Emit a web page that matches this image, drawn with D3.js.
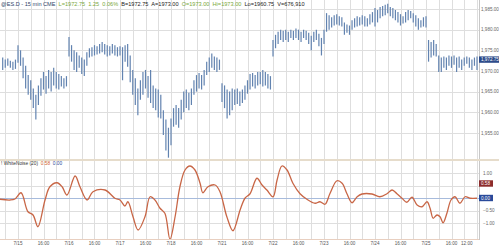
<!DOCTYPE html>
<html><head><meta charset="utf-8">
<script src="https://cdn.jsdelivr.net/npm/d3@7"></script>
<style>html,body{margin:0;padding:0;background:#fff;overflow:hidden}svg{display:block}text{font-family:"Liberation Sans",Arial,sans-serif}</style>
</head><body><svg id="c" width="499" height="247"></svg>
<script>
// ---- data ----
const highs = [1973.25,1972.75,1973.0,1972.5,1972.25,1972.75,1976.25,1975.0,1973.25,1971.25,
1969.0,1967.75,1965.75,1964.25,1966.5,1968.25,1969.75,1968.75,1970.25,1969.75,
1970.75,1969.75,1969.25,1968.75,1968.25,1968.75,1978.25,1976.25,1975.0,1974.5,
1973.75,1973.25,1972.75,1974.5,1975.5,1975.75,1976.25,1976.0,1976.5,1977.0,
1976.5,1976.25,1976.0,1976.5,1976.25,1975.75,1976.0,1975.75,1976.25,1976.5,
1973.75,1970.25,1968.25,1965.75,1967.75,1969.75,1970.25,1968.75,1970.25,1966.5,
1965.75,1965.5,1964.25,1960.5,1958.25,1956.25,1958.5,1961.0,1961.75,1961.0,
1963.0,1965.0,1965.5,1964.75,1965.75,1967.75,1969.0,1969.5,1969.0,1970.25,
1972.25,1973.25,1974.25,1973.5,1973.25,1972.75,1967.0,1966.5,1965.5,1965.0,
1965.75,1965.5,1965.75,1965.0,1965.5,1966.5,1967.75,1969.25,1969.5,1969.0,
1969.75,1969.75,1970.25,1969.75,1969.25,1968.75,1977.5,1978.75,1979.5,1980.0,
1979.75,1980.0,1979.5,1980.0,1979.75,1980.25,1980.0,1979.5,1980.0,1979.75,
1979.25,1978.5,1979.5,1980.0,1979.0,1978.0,1980.0,1984.0,1983.5,1983.0,
1983.5,1983.75,1983.25,1983.0,1981.75,1981.25,1981.0,1982.25,1982.75,1983.25,
1983.0,1983.5,1983.25,1982.75,1983.75,1984.25,1985.25,1984.75,1985.5,1985.75,
1986.0,1986.25,1985.5,1985.25,1984.75,1984.25,1983.75,1983.25,1984.25,1984.75,
1984.5,1984.0,1983.5,1982.75,1982.25,1983.0,1983.25,1977.5,1977.0,1977.5,
1976.5,1973.75,1973.25,1973.5,1973.25,1973.75,1973.5,1973.75,1973.25,1973.5,
1972.75,1973.25,1973.5,1973.25,1972.75,1973.25,1973.5];
const lows = [1970.25,1970.75,1971.25,1970.75,1970.25,1970.5,1972.0,1971.25,1968.25,1965.75,
1964.25,1963.0,1961.0,1958.25,1961.75,1964.0,1965.5,1964.5,1965.75,1965.0,
1966.5,1965.75,1965.5,1966.25,1965.75,1966.25,1973.5,1972.25,1970.25,1969.75,
1970.75,1969.25,1968.75,1971.25,1973.25,1973.5,1973.75,1974.0,1974.25,1974.5,
1974.0,1973.5,1973.75,1974.25,1973.75,1973.5,1973.75,1967.75,1972.25,1971.0,
1967.25,1964.25,1961.75,1959.25,1963.0,1964.25,1965.75,1963.5,1962.25,1961.0,
1960.5,1958.75,1958.5,1954.5,1950.75,1949.0,1952.0,1956.5,1957.0,1956.25,
1958.25,1960.0,1961.0,1960.5,1961.75,1964.25,1965.0,1965.75,1965.5,1966.5,
1969.0,1969.75,1970.75,1970.25,1969.75,1970.25,1962.5,1961.0,1958.5,1959.25,
1960.5,1961.75,1962.0,1961.5,1962.25,1963.0,1964.5,1965.5,1966.25,1965.75,
1966.5,1966.75,1966.25,1966.5,1965.75,1965.5,1973.5,1975.5,1976.5,1977.5,
1977.0,1977.5,1977.0,1978.0,1977.5,1978.0,1977.5,1977.0,1978.0,1977.5,
1976.5,1975.0,1977.0,1977.5,1976.0,1973.75,1976.5,1979.5,1980.0,1980.5,
1981.0,1981.25,1981.0,1980.75,1978.75,1979.25,1978.75,1980.0,1980.5,1980.75,
1981.0,1981.25,1980.75,1980.75,1981.25,1981.75,1980.75,1981.75,1982.75,1983.25,
1983.5,1984.0,1983.25,1982.75,1982.25,1981.75,1981.0,1981.5,1981.75,1982.25,
1982.75,1981.75,1980.75,1980.0,1980.5,1980.75,1980.5,1972.25,1973.25,1973.75,
1973.5,1969.75,1969.75,1970.75,1970.25,1971.25,1970.75,1971.5,1969.75,1970.75,
1970.25,1971.25,1971.75,1970.75,1970.25,1971.25,1970.25];
const priceTicks = [1955, 1960, 1965, 1970, 1975, 1980, 1985];
const lastPrice = 1972.75;

const timeTickBars = [6,16,26,36,46,56,66,76,86,96,106,116,126,136,146,156,166,176,182];
const timeTickLabels = ["7/15","16:00","7/16","16:00","7/17","16:00","7/18","16:00","7/21","16:00",
  "7/22","16:00","7/23","16:00","7/24","16:00","7/25","16:00","12:00"];

const wnBars = [-1.1,2.9,4.8,7.2,9.9,11.9,13.8,16.6,18.5,21.3,23.3,25.2,28.4,30.3,33.1,35.4,40.1,44.0,46.0,47.9,
  49.1,51.1,53.1,55.8,57.8,59.7,61.7,63.6,65.6,67.6,69.5,71.5,73.4,75.4,77.4,78.5,80.5,83.3,85.2,87.9,
  90.3,93.1,95.0,97.0,99.7,101.7,103.6,106.0,107.6,109.5,111.5,113.8,116.6,119.3,122.5,124.4,126.4,128.3,131.1,133.1,
  135.0,137.0,139.0,140.9,144.8,147.9,150.7,152.7,154.6,156.6,158.5,160.5,162.5,164.4,166.4,167.6,168.8,170.3,171.5,172.7,
  174.2,175.8,177.4,179.3,181.3,183.3,186.0];
const wnValues = [-0.05,-0.08,-0.04,0.21,-0.55,-0.68,-1.15,-0.08,0.45,0.61,0.45,0.12,0.88,0.45,-0.08,0.25,0.32,-0.01,-0.08,-0.32,
  -0.15,-0.75,-1.28,-0.75,0.05,-0.08,-0.41,-0.61,-1.65,-0.75,0.45,1.12,1.28,1.12,0.59,0.21,0.45,0.52,0.25,-0.75,
  -1.31,-0.48,-0.01,0.17,0.79,0.52,0.32,0.05,0.72,1.28,1.12,0.59,0.17,-0.05,-0.21,-0.15,-0.25,0.17,0.69,0.59,
  0.17,-0.19,0.05,0.16,0.16,0.05,0.17,0.32,0.17,-0.01,-0.17,0.03,-0.28,-0.35,-0.15,-0.41,-0.81,-0.68,-0.75,-0.99,
  -0.61,-0.08,0.05,-0.21,0.05,-0.01,-0.01];
const wnTicks = [1.0, -0.5, -1.0];
const wnGrid = [1.0, 0.5, -0.5, -1.0];
const wnLast = 0.58, wnZero = 0.0;

// ---- drawing ----
const svg = d3.select("#c");
const W = 499, H = 247, axisX = 479;
const x = d3.scaleLinear().domain([0, 186]).range([2.7, 477]);
const yP = d3.scaleLinear().domain([1950, 1985]).range([153.55, 9]);
const yW = d3.scaleLinear().domain([-1, 1]).range([223, 173]);
const pricePane = [0, 159], wnPane = [161, 239];

svg.append("rect").attr("width", W).attr("height", H).attr("fill", "#fff");

// vertical grid
const gridBars = d3.range(1, 187, 5);
const g = svg.append("g");
gridBars.forEach(b => {
  const gx = Math.round(x(b)) + 0.5;
  g.append("line").attr("x1", gx).attr("x2", gx).attr("y1", pricePane[0]).attr("y2", pricePane[1])
    .attr("stroke", "#dedede").attr("stroke-width", 1);
  g.append("line").attr("x1", gx).attr("x2", gx).attr("y1", wnPane[0]).attr("y2", wnPane[1])
    .attr("stroke", "#dedede").attr("stroke-width", 1);
});
// horizontal grid
priceTicks.forEach(p => g.append("line").attr("x1", 0).attr("x2", axisX).attr("y1", Math.round(yP(p)) + 0.5).attr("y2", Math.round(yP(p)) + 0.5)
  .attr("stroke", "#dedede"));
wnGrid.forEach(v => g.append("line").attr("x1", 0).attr("x2", axisX).attr("y1", Math.round(yW(v)) + 0.5).attr("y2", Math.round(yW(v)) + 0.5)
  .attr("stroke", "#dedede"));
// zero line
g.append("line").attr("x1", 0).attr("x2", axisX).attr("y1", Math.round(yW(0)) + 0.5).attr("y2", Math.round(yW(0)) + 0.5)
  .attr("stroke", "#a7bbdc").attr("stroke-width", 1);

// price bars
svg.append("g").selectAll("line").data(highs).join("line")
  .attr("x1", (d, i) => x(i)).attr("x2", (d, i) => x(i))
  .attr("y1", d => yP(d)).attr("y2", (d, i) => yP(lows[i]))
  .attr("stroke", "#6283b0").attr("stroke-width", 1.2);

// indicator curve
const wnData = wnBars.map((b, i) => [b, wnValues[i]]);
svg.append("path").datum(wnData)
  .attr("d", d3.line().x(d => x(d[0])).y(d => yW(d[1])).curve(d3.curveCatmullRom.alpha(0.5)))
  .attr("fill", "none").attr("stroke", "#c86646").attr("stroke-width", 1.3);

// pane separators
svg.append("rect").attr("x", 0).attr("y", 159).attr("width", W).attr("height", 2).attr("fill", "#e6dccb");
svg.append("rect").attr("x", 0).attr("y", 239).attr("width", axisX).attr("height", 1).attr("fill", "#e8cfc0");

// right axis
svg.append("rect").attr("x", axisX).attr("y", 0).attr("width", W - axisX).attr("height", H).attr("fill", "#fff");
svg.append("line").attr("x1", axisX + 0.5).attr("x2", axisX + 0.5).attr("y1", 0).attr("y2", 240).attr("stroke", "#c8c8c8");
svg.append("rect").attr("x", axisX).attr("y", 159).attr("width", W - axisX).attr("height", 2).attr("fill", "#e6dccb");

const fmtP = d3.format(",.2f");
svg.append("g").selectAll("text").data(priceTicks).join("text")
  .attr("x", axisX + 2).attr("y", d => yP(d) + 1.7).text(d => fmtP(d))
  .attr("font-size", 4.6).attr("fill", "#666");
const pb = svg.append("g");
pb.append("rect").attr("x", axisX).attr("y", yP(lastPrice) - 3.2).attr("width", W - axisX).attr("height", 6.4).attr("fill", "#2d4b8a");
pb.append("text").attr("x", axisX + 2).attr("y", yP(lastPrice) + 1.7).text(fmtP(lastPrice)).attr("font-size", 4.6).attr("fill", "#fff");

const fmtW = d3.format(".2f");
svg.append("g").selectAll("text").data(wnTicks).join("text")
  .attr("x", axisX + 4).attr("y", d => yW(d) + 1.7).text(d => fmtW(d))
  .attr("font-size", 4.6).attr("fill", "#666");
[[wnLast, "#8c2c2c"], [wnZero, "#2a4a9a"]].forEach(([v, c]) => {
  svg.append("rect").attr("x", axisX).attr("y", yW(v) - 3.2).attr("width", 14).attr("height", 6.4).attr("fill", c);
  svg.append("text").attr("x", axisX + 2).attr("y", yW(v) + 1.7).text(fmtW(v)).attr("font-size", 4.6).attr("fill", "#fff");
});

// time axis labels
svg.append("g").selectAll("text").data(timeTickBars).join("text")
  .attr("x", d => x(d)).attr("y", 245).attr("text-anchor", "middle").text((d, i) => timeTickLabels[i])
  .attr("font-size", 4.6).attr("fill", "#555");

// headers
const h1 = svg.append("text").attr("x", 1).attr("y", 5.5).attr("font-size", 5.6).attr("xml:space", "preserve");
[["@ES.D - 15 min CME  ", "#2d3f6a"], ["L=1972.75  1.25  0.06%  ", "#7aa83c"], ["B=1972.75  ", "#222"],
 ["A=1973.00  ", "#222"], ["O=1973.00  ", "#7aa83c"], ["Hi=1973.00  ", "#7aa83c"], ["Lo=1960.75  ", "#222"], ["V=676,910", "#222"]]
  .forEach(([t, c]) => h1.append("tspan").text(t).attr("fill", c));

const h2 = svg.append("text").attr("x", 1).attr("y", 165).attr("font-size", 4.8).attr("xml:space", "preserve");
[["! WhiteNoise (20)  ", "#333"], ["0.58  ", "#d0602c"], ["0.00", "#2a4a9a"]]
  .forEach(([t, c]) => h2.append("tspan").text(t).attr("fill", c));
</script></body></html>
